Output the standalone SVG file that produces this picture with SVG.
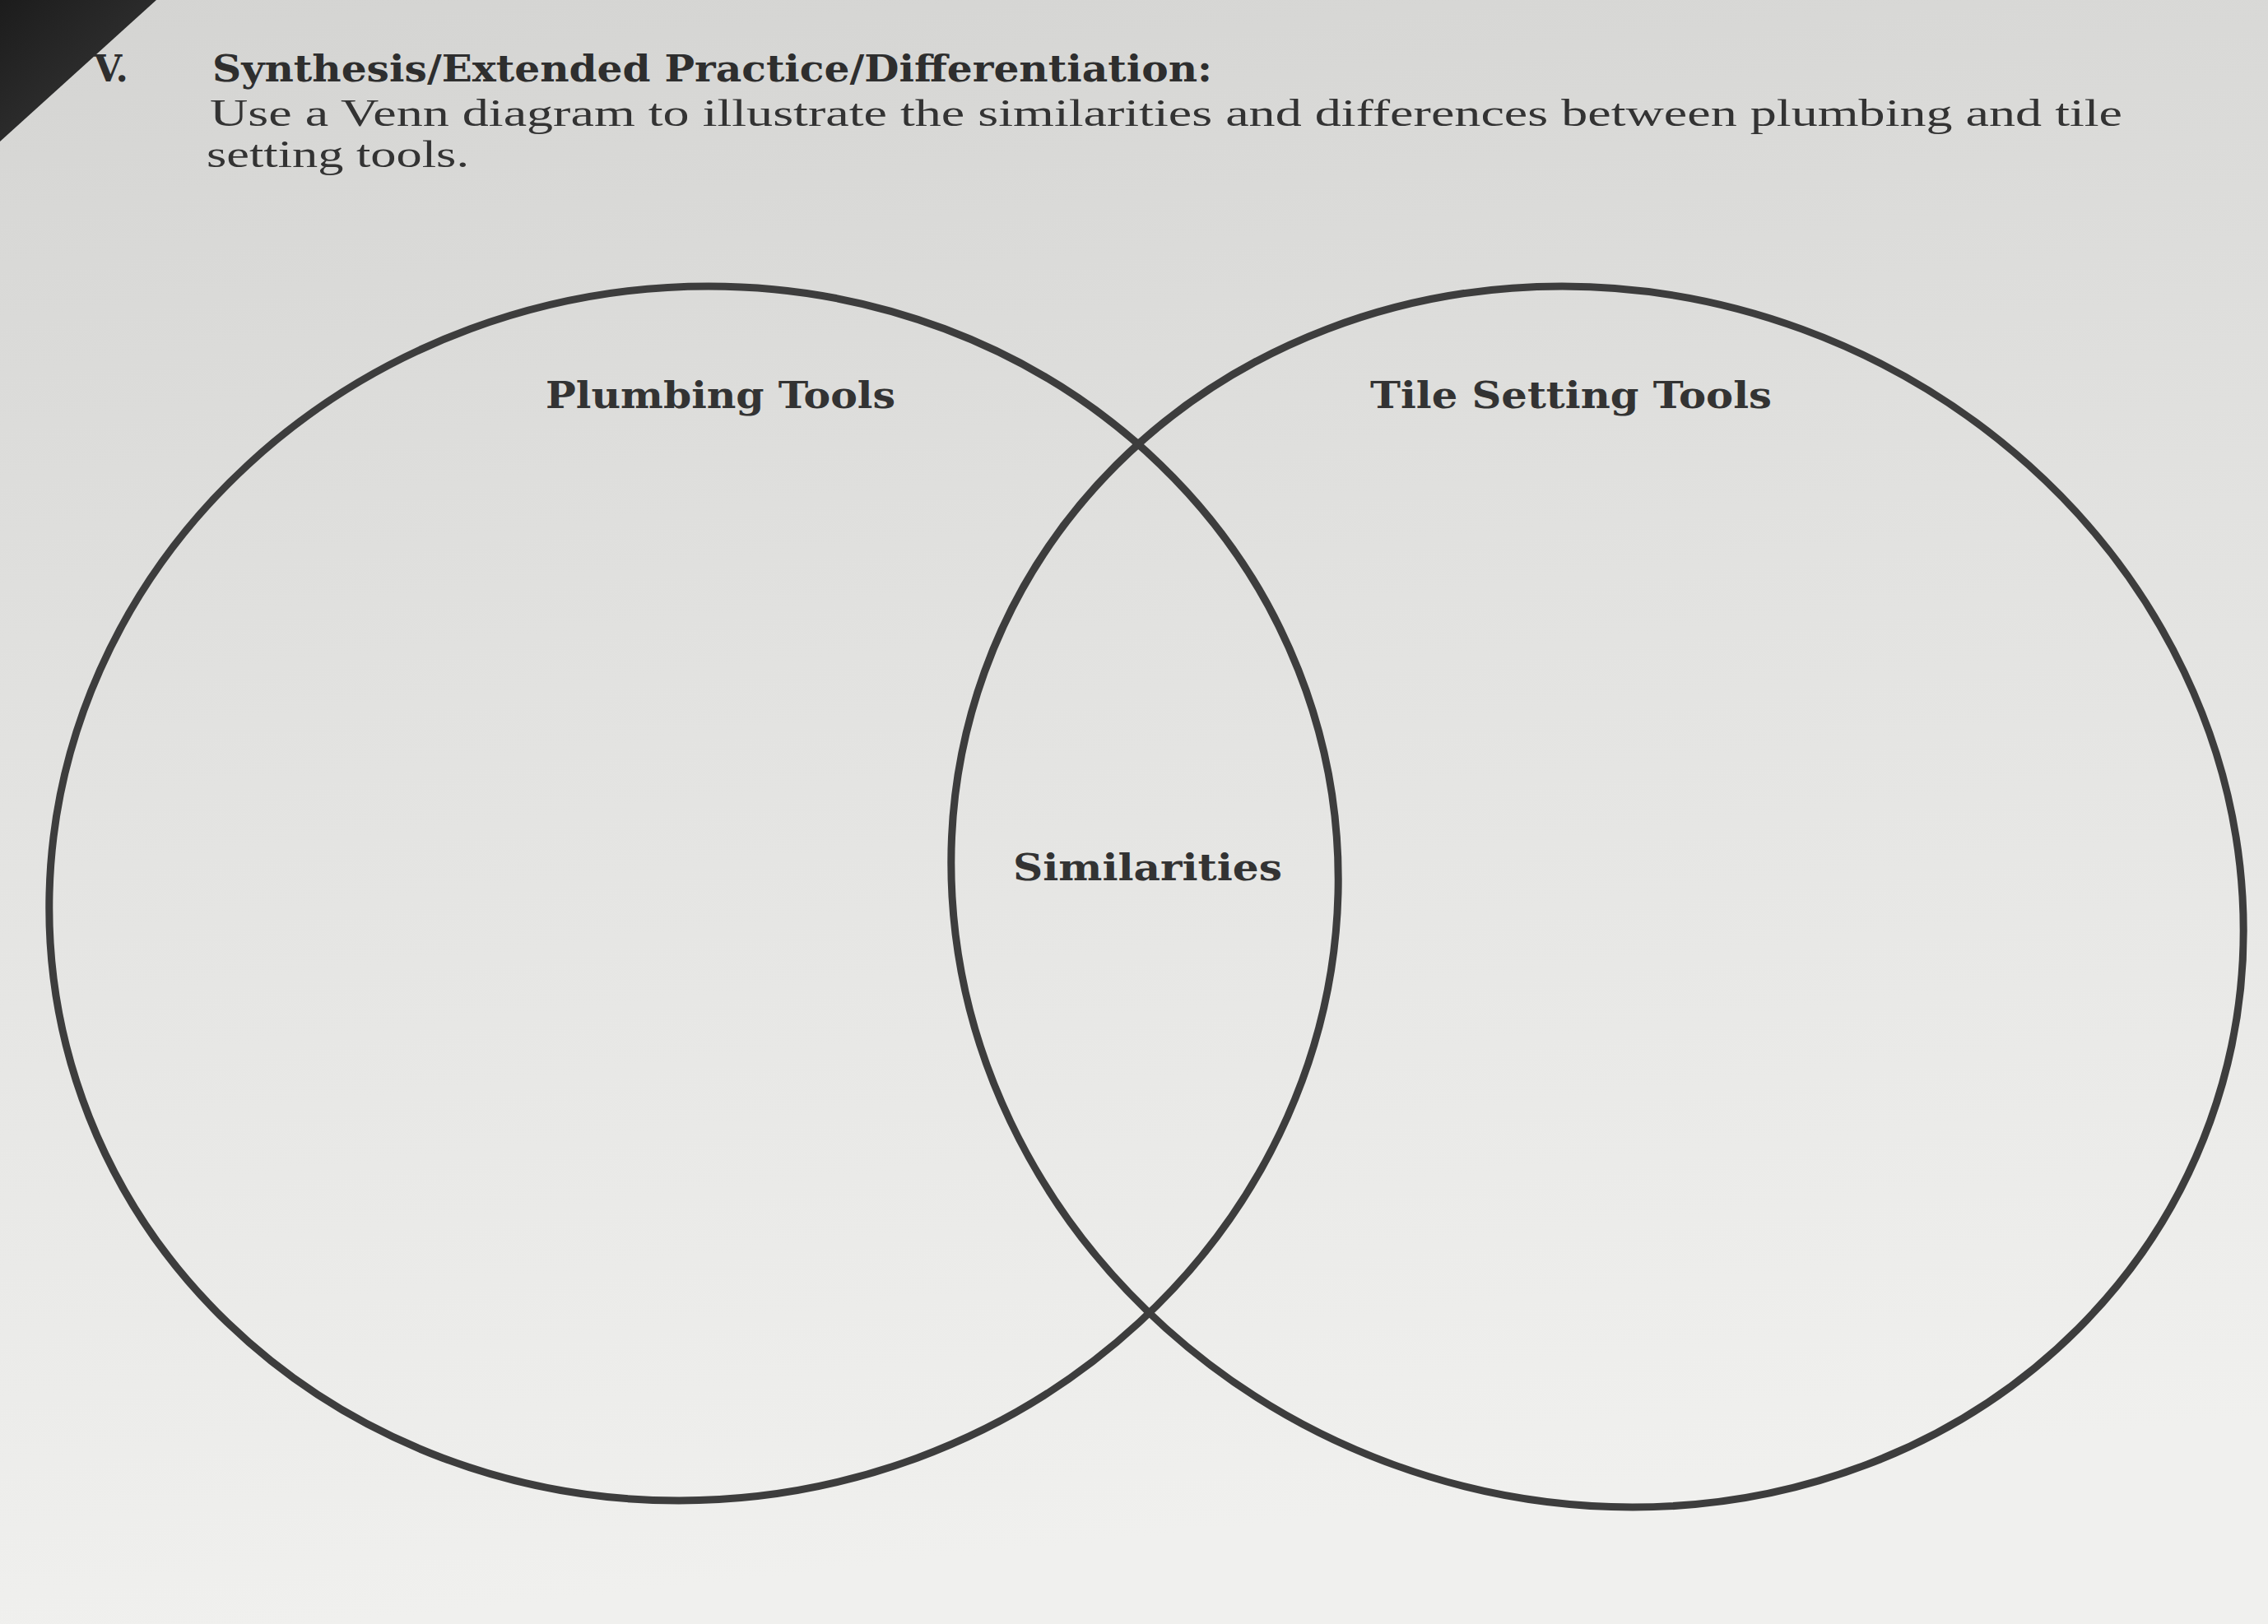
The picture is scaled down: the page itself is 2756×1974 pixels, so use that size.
<svg xmlns="http://www.w3.org/2000/svg" width="2756" height="1974" viewBox="0 0 2756 1974">
<defs>
<linearGradient id="bg" x1="0" y1="0" x2="0.15" y2="1">
<stop offset="0" stop-color="#d4d4d2"/>
<stop offset="0.45" stop-color="#e2e2e0"/>
<stop offset="1" stop-color="#f0f0ee"/>
</linearGradient>
<linearGradient id="dark" x1="0" y1="0" x2="1" y2="1">
<stop offset="0" stop-color="#1c1c1c"/>
<stop offset="1" stop-color="#3a3a3a"/>
</linearGradient>
</defs>
<style>
.ring{fill:none;stroke:#3d3d3d;stroke-width:9}
.head{font-family:"DejaVu Serif","Liberation Serif",serif;font-weight:bold;fill:#2e2e2e}
.body{font-family:"Liberation Serif","DejaVu Serif",serif;fill:#333333}
.lbl{font-family:"DejaVu Serif","Liberation Serif",serif;font-weight:bold;fill:#333333;font-size:44px}
</style>
<rect x="0" y="0" width="2756" height="1974" fill="url(#bg)"/>
<polygon points="0,0 190,0 0,172" fill="url(#dark)"/>
<g id="header">
<text class="head" x="114" y="99" font-size="44">V.</text>
<text class="head" x="258" y="99" font-size="44" textLength="1215" lengthAdjust="spacingAndGlyphs">Synthesis/Extended Practice/Differentiation:</text>
<text class="body" x="255" y="153" font-size="47" textLength="2324" lengthAdjust="spacingAndGlyphs">Use a Venn diagram to illustrate the similarities and differences between plumbing and tile</text>
<text class="body" x="251" y="203" font-size="47" textLength="319" lengthAdjust="spacingAndGlyphs">setting tools.</text>
</g>
<g id="connectors"/>
<g id="plumbing">
<ellipse class="ring" cx="843" cy="1086" rx="783" ry="738" transform="translate(843 1086) skewX(-1.4) translate(-843 -1086)"/>
<text class="lbl" x="663" y="496" textLength="425" lengthAdjust="spacingAndGlyphs">Plumbing Tools</text>
</g>
<g id="tile-setting">
<ellipse class="ring" cx="1941" cy="1090" rx="784" ry="742" transform="translate(1941 1090) skewX(3.3) translate(-1941 -1090)"/>
<text class="lbl" x="1665" y="496" textLength="488" lengthAdjust="spacingAndGlyphs">Tile Setting Tools</text>
</g>
<g id="similarities">
<text class="lbl" x="1231" y="1070" textLength="327" lengthAdjust="spacingAndGlyphs">Similarities</text>
</g>
</svg>
